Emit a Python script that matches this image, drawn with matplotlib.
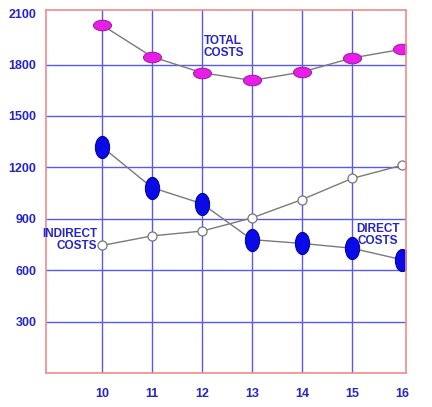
import numpy as np
import matplotlib.pyplot as plt
from matplotlib.path import Path

plt.rcParams['font.family'] = ['Liberation Sans', 'DejaVu Sans']

# data
weeks = [10, 11, 12, 13, 14, 15, 16]
total_costs = [2030, 1845, 1752, 1707, 1756, 1838, 1889]
direct_costs = [1320, 1082, 988, 778, 756, 728, 661]
indirect_costs = [744, 800, 828, 905, 1012, 1135, 1212]
y_ticks = [300, 600, 900, 1200, 1500, 1800, 2100]

blue = '#2424c8'
grid_blue = '#5a5ae6'
line_gray = '#7a7a7a'

def ellipse(sx, sy):
    c = Path.unit_circle()
    return Path(c.vertices * [sx, sy], c.codes)

fig = plt.figure(figsize=(4.32, 4.07), dpi=100)
ax = fig.add_axes([46/432, 34/407, 360/432, 363/407])

for y in y_ticks[:-1]:
    ax.axhline(y, color=grid_blue, lw=1.0, zorder=1)
for x in weeks[:-1]:
    ax.axvline(x, color=grid_blue, lw=1.0, zorder=1)

ax.plot(weeks, total_costs, color=line_gray, lw=1.0, zorder=2,
        marker=ellipse(1.7, 1.0), ms=13, mfc='#e81ee8', mec='#9a1a9a', mew=0.7)
ax.plot(weeks, direct_costs, color=line_gray, lw=1.0, zorder=2,
        marker=ellipse(1.0, 1.55), ms=16, mfc='#0a0ae8', mec='#00008a', mew=0.7)
ax.plot(weeks, indirect_costs, color=line_gray, lw=1.0, zorder=2,
        marker='o', ms=6.5, mfc='white', mec='#777777', mew=0.9)

txt = dict(color=blue, fontsize=8.5, fontweight='bold', linespacing=1.0)
ax.text(12.04, 1905, 'TOTAL\nCOSTS', ha='left', va='center', **txt)
ax.text(9.9, 776, 'INDIRECT\nCOSTS', ha='right', va='center',
        multialignment='right', **txt)
ax.text(15.08, 805, 'DIRECT\nCOSTS', ha='left', va='center',
        multialignment='center', **txt)

ax.set_xlim(8.88, 16.08)
ax.set_ylim(0, 2118)
ax.set_xticks(weeks)
ax.set_yticks(y_ticks)
ax.tick_params(length=0, labelcolor=blue, labelsize=9)
ax.tick_params(axis='x', pad=11)
ax.tick_params(axis='y', pad=7)
for lab in ax.get_xticklabels() + ax.get_yticklabels():
    lab.set_fontweight('bold')
for s in ax.spines.values():
    s.set_color('#f08a8a')
    s.set_linewidth(1.2)

plt.savefig('out.png', dpi=100)
